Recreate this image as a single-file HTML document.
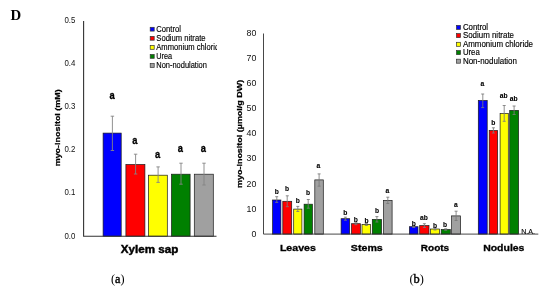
<!DOCTYPE html><html><head><meta charset="utf-8"><title>Figure D</title>
<style>html,body{margin:0;padding:0;background:#fff}body{width:550px;height:293px;overflow:hidden}svg{display:block}.s{font-family:"Liberation Sans",Arial,sans-serif}.r{font-family:"Liberation Serif","DejaVu Serif",serif}.b{font-weight:bold}</style></head><body>
<svg width="550" height="293" viewBox="0 0 550 293">
<rect width="550" height="293" fill="#fff"/>
<text x="10.5" y="20.2" font-size="14.8" class="r b" text-anchor="start" fill="#000" >D</text>
<text x="75.3" y="238.5" font-size="9.0" class="s" text-anchor="end" fill="#111" textLength="10.9" lengthAdjust="spacingAndGlyphs">0.0</text>
<text x="75.3" y="195.4" font-size="9.0" class="s" text-anchor="end" fill="#111" textLength="10.9" lengthAdjust="spacingAndGlyphs">0.1</text>
<text x="75.3" y="152.3" font-size="9.0" class="s" text-anchor="end" fill="#111" textLength="10.9" lengthAdjust="spacingAndGlyphs">0.2</text>
<text x="75.3" y="109.2" font-size="9.0" class="s" text-anchor="end" fill="#111" textLength="10.9" lengthAdjust="spacingAndGlyphs">0.3</text>
<text x="75.3" y="66.1" font-size="9.0" class="s" text-anchor="end" fill="#111" textLength="10.9" lengthAdjust="spacingAndGlyphs">0.4</text>
<text x="75.3" y="23.0" font-size="9.0" class="s" text-anchor="end" fill="#111" textLength="10.9" lengthAdjust="spacingAndGlyphs">0.5</text>
<rect x="103.1" y="133.1" width="18.1" height="103.1" fill="#0000ff" stroke="#1a1a1a" stroke-width="0.7"/>
<rect x="125.9" y="164.5" width="19.0" height="71.7" fill="#ff0000" stroke="#1a1a1a" stroke-width="0.7"/>
<rect x="148.4" y="175.2" width="18.9" height="61.0" fill="#ffff00" stroke="#1a1a1a" stroke-width="0.7"/>
<rect x="171.5" y="174.2" width="18.6" height="62.0" fill="#008000" stroke="#1a1a1a" stroke-width="0.7"/>
<rect x="194.3" y="174.2" width="19.0" height="62.0" fill="#a0a0a0" stroke="#1a1a1a" stroke-width="0.7"/>
<path d="M112.4 116.2V150.5M110.7 116.2H114.1M110.7 150.5H114.1" stroke="#858585" stroke-width="0.9" fill="none"/>
<path d="M135.6 154.2V174.0M133.9 154.2H137.3M133.9 174.0H137.3" stroke="#858585" stroke-width="0.9" fill="none"/>
<path d="M158.1 166.9V182.4M156.4 166.9H159.8M156.4 182.4H159.8" stroke="#858585" stroke-width="0.9" fill="none"/>
<path d="M181.0 163.2V184.2M179.3 163.2H182.7M179.3 184.2H182.7" stroke="#858585" stroke-width="0.9" fill="none"/>
<path d="M204.0 163.2V185.0M202.3 163.2H205.7M202.3 185.0H205.7" stroke="#858585" stroke-width="0.9" fill="none"/>
<path d="M83.6 21V236.2H216.5" stroke="#333" stroke-width="1.1" fill="none"/>
<text x="112.0" y="98.7" font-size="11.0" class="s b" text-anchor="middle" fill="#000" textLength="5.2" lengthAdjust="spacingAndGlyphs" stroke="#000" stroke-width="0.3">a</text>
<text x="134.9" y="144.1" font-size="11.0" class="s b" text-anchor="middle" fill="#000" textLength="5.2" lengthAdjust="spacingAndGlyphs" stroke="#000" stroke-width="0.3">a</text>
<text x="157.6" y="158.3" font-size="11.0" class="s b" text-anchor="middle" fill="#000" textLength="5.2" lengthAdjust="spacingAndGlyphs" stroke="#000" stroke-width="0.3">a</text>
<text x="180.4" y="152.0" font-size="11.0" class="s b" text-anchor="middle" fill="#000" textLength="5.2" lengthAdjust="spacingAndGlyphs" stroke="#000" stroke-width="0.3">a</text>
<text x="203.3" y="152.0" font-size="11.0" class="s b" text-anchor="middle" fill="#000" textLength="5.2" lengthAdjust="spacingAndGlyphs" stroke="#000" stroke-width="0.3">a</text>
<text x="149.6" y="252.7" font-size="10.0" class="s b" text-anchor="middle" fill="#000" textLength="57.5" lengthAdjust="spacingAndGlyphs" stroke="#000" stroke-width="0.4">Xylem sap</text>
<g transform="translate(59.9,127.8) rotate(-90)">
<text x="0.0" y="0.0" font-size="8.0" class="s b" text-anchor="middle" fill="#000" textLength="77" lengthAdjust="spacingAndGlyphs" stroke="#000" stroke-width="0.25">myo-inositol (mM)</text>
</g>
<clipPath id="ca"><rect x="140" y="20" width="76.9" height="55"/></clipPath><g clip-path="url(#ca)">
<rect x="150.2" y="27.3" width="4.0" height="3.8" fill="#0000ff" stroke="#333" stroke-width="0.7"/>
<text x="156.3" y="32.0" font-size="8.3" class="s" text-anchor="start" fill="#000" textLength="24.6" lengthAdjust="spacingAndGlyphs" stroke="#000" stroke-width="0.15">Control</text>
<rect x="150.2" y="36.4" width="4.0" height="3.8" fill="#ff0000" stroke="#333" stroke-width="0.7"/>
<text x="156.3" y="41.1" font-size="8.3" class="s" text-anchor="start" fill="#000" textLength="49.2" lengthAdjust="spacingAndGlyphs" stroke="#000" stroke-width="0.15">Sodium nitrate</text>
<rect x="150.2" y="45.5" width="4.0" height="3.8" fill="#ffff00" stroke="#333" stroke-width="0.7"/>
<text x="156.3" y="50.2" font-size="8.3" class="s" text-anchor="start" fill="#000" textLength="67.1" lengthAdjust="spacingAndGlyphs" stroke="#000" stroke-width="0.15">Ammonium chloride</text>
<rect x="150.2" y="54.5" width="4.0" height="3.8" fill="#008000" stroke="#333" stroke-width="0.7"/>
<text x="156.3" y="59.2" font-size="8.3" class="s" text-anchor="start" fill="#000" textLength="15.8" lengthAdjust="spacingAndGlyphs" stroke="#000" stroke-width="0.15">Urea</text>
<rect x="150.2" y="63.6" width="4.0" height="3.8" fill="#a0a0a0" stroke="#333" stroke-width="0.7"/>
<text x="156.3" y="68.3" font-size="8.3" class="s" text-anchor="start" fill="#000" textLength="50.6" lengthAdjust="spacingAndGlyphs" stroke="#000" stroke-width="0.15">Non-nodulation</text>
</g>
<text x="117.8" y="282.5" font-size="12.0" class="r" text-anchor="middle" fill="#000" textLength="13.6" lengthAdjust="spacingAndGlyphs">(<tspan stroke="#000" stroke-width="0.4">a</tspan>)</text>
<text x="256.3" y="236.6" font-size="9.0" class="s" text-anchor="end" fill="#111" textLength="4.9" lengthAdjust="spacingAndGlyphs">0</text>
<text x="256.3" y="211.5" font-size="9.0" class="s" text-anchor="end" fill="#111" textLength="9.8" lengthAdjust="spacingAndGlyphs">10</text>
<text x="256.3" y="186.5" font-size="9.0" class="s" text-anchor="end" fill="#111" textLength="9.8" lengthAdjust="spacingAndGlyphs">20</text>
<text x="256.3" y="161.4" font-size="9.0" class="s" text-anchor="end" fill="#111" textLength="9.8" lengthAdjust="spacingAndGlyphs">30</text>
<text x="256.3" y="136.4" font-size="9.0" class="s" text-anchor="end" fill="#111" textLength="9.8" lengthAdjust="spacingAndGlyphs">40</text>
<text x="256.3" y="111.3" font-size="9.0" class="s" text-anchor="end" fill="#111" textLength="9.8" lengthAdjust="spacingAndGlyphs">50</text>
<text x="256.3" y="86.2" font-size="9.0" class="s" text-anchor="end" fill="#111" textLength="9.8" lengthAdjust="spacingAndGlyphs">60</text>
<text x="256.3" y="61.2" font-size="9.0" class="s" text-anchor="end" fill="#111" textLength="9.8" lengthAdjust="spacingAndGlyphs">70</text>
<text x="256.3" y="36.1" font-size="9.0" class="s" text-anchor="end" fill="#111" textLength="9.8" lengthAdjust="spacingAndGlyphs">80</text>
<rect x="272.6" y="200.0" width="8.3" height="34.1" fill="#0000ff" stroke="#1a1a1a" stroke-width="0.7"/>
<rect x="282.8" y="201.3" width="8.9" height="32.8" fill="#ff0000" stroke="#1a1a1a" stroke-width="0.7"/>
<rect x="293.7" y="209.1" width="8.2" height="25.0" fill="#ffff00" stroke="#1a1a1a" stroke-width="0.7"/>
<rect x="304.1" y="204.2" width="8.3" height="29.9" fill="#008000" stroke="#1a1a1a" stroke-width="0.7"/>
<rect x="314.8" y="179.9" width="8.5" height="54.2" fill="#a0a0a0" stroke="#1a1a1a" stroke-width="0.7"/>
<rect x="341.1" y="218.7" width="8.6" height="15.4" fill="#0000ff" stroke="#1a1a1a" stroke-width="0.7"/>
<rect x="351.5" y="223.7" width="8.9" height="10.4" fill="#ff0000" stroke="#1a1a1a" stroke-width="0.7"/>
<rect x="362.0" y="224.5" width="8.6" height="9.6" fill="#ffff00" stroke="#1a1a1a" stroke-width="0.7"/>
<rect x="372.3" y="219.4" width="9.2" height="14.7" fill="#008000" stroke="#1a1a1a" stroke-width="0.7"/>
<rect x="383.5" y="200.4" width="8.6" height="33.7" fill="#a0a0a0" stroke="#1a1a1a" stroke-width="0.7"/>
<rect x="409.4" y="226.7" width="8.6" height="7.4" fill="#0000ff" stroke="#1a1a1a" stroke-width="0.7"/>
<rect x="419.7" y="225.6" width="9.3" height="8.5" fill="#ff0000" stroke="#1a1a1a" stroke-width="0.7"/>
<rect x="430.5" y="229.0" width="9.0" height="5.1" fill="#ffff00" stroke="#1a1a1a" stroke-width="0.7"/>
<rect x="441.2" y="229.5" width="9.1" height="4.6" fill="#008000" stroke="#1a1a1a" stroke-width="0.7"/>
<rect x="451.6" y="215.9" width="9.0" height="18.2" fill="#a0a0a0" stroke="#1a1a1a" stroke-width="0.7"/>
<rect x="478.3" y="100.5" width="8.9" height="133.6" fill="#0000ff" stroke="#1a1a1a" stroke-width="0.7"/>
<rect x="489.2" y="130.5" width="8.4" height="103.6" fill="#ff0000" stroke="#1a1a1a" stroke-width="0.7"/>
<rect x="500.1" y="113.6" width="8.2" height="120.5" fill="#ffff00" stroke="#1a1a1a" stroke-width="0.7"/>
<rect x="509.7" y="110.4" width="8.9" height="123.7" fill="#008000" stroke="#1a1a1a" stroke-width="0.7"/>
<path d="M276.8 196.7V202.4M275.2 196.7H278.2M275.2 202.4H278.2" stroke="#7a7a7a" stroke-width="0.85" fill="none"/>
<path d="M287.2 195.8V206.7M285.8 195.8H288.8M285.8 206.7H288.8" stroke="#7a7a7a" stroke-width="0.85" fill="none"/>
<path d="M297.8 206.4V211.5M296.3 206.4H299.3M296.3 211.5H299.3" stroke="#7a7a7a" stroke-width="0.85" fill="none"/>
<path d="M308.2 199.5V208.2M306.8 199.5H309.8M306.8 208.2H309.8" stroke="#7a7a7a" stroke-width="0.85" fill="none"/>
<path d="M319.1 173.9V186.2M317.6 173.9H320.6M317.6 186.2H320.6" stroke="#7a7a7a" stroke-width="0.85" fill="none"/>
<path d="M345.4 217.2V220.2M343.9 217.2H346.9M343.9 220.2H346.9" stroke="#7a7a7a" stroke-width="0.85" fill="none"/>
<path d="M355.9 222.7V224.7M354.4 222.7H357.4M354.4 224.7H357.4" stroke="#7a7a7a" stroke-width="0.85" fill="none"/>
<path d="M366.3 223.5V225.5M364.8 223.5H367.8M364.8 225.5H367.8" stroke="#7a7a7a" stroke-width="0.85" fill="none"/>
<path d="M376.9 216.6V222.0M375.4 216.6H378.4M375.4 222.0H378.4" stroke="#7a7a7a" stroke-width="0.85" fill="none"/>
<path d="M387.8 197.2V203.5M386.3 197.2H389.3M386.3 203.5H389.3" stroke="#7a7a7a" stroke-width="0.85" fill="none"/>
<path d="M413.7 225.9V227.5M412.2 225.9H415.2M412.2 227.5H415.2" stroke="#7a7a7a" stroke-width="0.85" fill="none"/>
<path d="M424.4 223.7V227.5M422.9 223.7H425.9M422.9 227.5H425.9" stroke="#7a7a7a" stroke-width="0.85" fill="none"/>
<path d="M435.0 228.0V230.0M433.5 228.0H436.5M433.5 230.0H436.5" stroke="#7a7a7a" stroke-width="0.85" fill="none"/>
<path d="M445.8 228.8V230.2M444.2 228.8H447.2M444.2 230.2H447.2" stroke="#7a7a7a" stroke-width="0.85" fill="none"/>
<path d="M456.1 211.2V220.5M454.6 211.2H457.6M454.6 220.5H457.6" stroke="#7a7a7a" stroke-width="0.85" fill="none"/>
<path d="M482.8 94.0V107.6M481.2 94.0H484.2M481.2 107.6H484.2" stroke="#7a7a7a" stroke-width="0.85" fill="none"/>
<path d="M493.4 127.8V133.0M491.9 127.8H494.9M491.9 133.0H494.9" stroke="#7a7a7a" stroke-width="0.85" fill="none"/>
<path d="M504.2 105.5V121.3M502.7 105.5H505.7M502.7 121.3H505.7" stroke="#7a7a7a" stroke-width="0.85" fill="none"/>
<path d="M514.1 106.0V114.5M512.6 106.0H515.6M512.6 114.5H515.6" stroke="#7a7a7a" stroke-width="0.85" fill="none"/>
<path d="M263.5 33.5V234.1H538.3" stroke="#333" stroke-width="0.9" fill="none"/>
<text x="276.8" y="194.0" font-size="6.7" class="s b" text-anchor="middle" fill="#000" stroke="#000" stroke-width="0.12">b</text>
<text x="287.1" y="191.1" font-size="6.7" class="s b" text-anchor="middle" fill="#000" stroke="#000" stroke-width="0.12">b</text>
<text x="297.7" y="203.1" font-size="6.7" class="s b" text-anchor="middle" fill="#000" stroke="#000" stroke-width="0.12">b</text>
<text x="308.0" y="195.2" font-size="6.7" class="s b" text-anchor="middle" fill="#000" stroke="#000" stroke-width="0.12">b</text>
<text x="318.3" y="167.6" font-size="6.7" class="s b" text-anchor="middle" fill="#000" stroke="#000" stroke-width="0.12">a</text>
<text x="345.4" y="215.0" font-size="6.7" class="s b" text-anchor="middle" fill="#000" stroke="#000" stroke-width="0.12">b</text>
<text x="355.8" y="221.5" font-size="6.7" class="s b" text-anchor="middle" fill="#000" stroke="#000" stroke-width="0.12">b</text>
<text x="366.5" y="222.6" font-size="6.7" class="s b" text-anchor="middle" fill="#000" stroke="#000" stroke-width="0.12">b</text>
<text x="377.0" y="212.7" font-size="6.7" class="s b" text-anchor="middle" fill="#000" stroke="#000" stroke-width="0.12">b</text>
<text x="387.4" y="193.3" font-size="6.7" class="s b" text-anchor="middle" fill="#000" stroke="#000" stroke-width="0.12">a</text>
<text x="413.9" y="225.8" font-size="6.7" class="s b" text-anchor="middle" fill="#000" stroke="#000" stroke-width="0.12">b</text>
<text x="424.0" y="220.2" font-size="6.7" class="s b" text-anchor="middle" fill="#000" stroke="#000" stroke-width="0.12">ab</text>
<text x="435.0" y="228.0" font-size="6.7" class="s b" text-anchor="middle" fill="#000" stroke="#000" stroke-width="0.12">b</text>
<text x="445.1" y="226.7" font-size="6.7" class="s b" text-anchor="middle" fill="#000" stroke="#000" stroke-width="0.12">b</text>
<text x="455.9" y="206.9" font-size="6.7" class="s b" text-anchor="middle" fill="#000" stroke="#000" stroke-width="0.12">a</text>
<text x="482.4" y="85.8" font-size="6.7" class="s b" text-anchor="middle" fill="#000" stroke="#000" stroke-width="0.12">a</text>
<text x="493.3" y="125.4" font-size="6.7" class="s b" text-anchor="middle" fill="#000" stroke="#000" stroke-width="0.12">b</text>
<text x="503.6" y="97.8" font-size="6.7" class="s b" text-anchor="middle" fill="#000" stroke="#000" stroke-width="0.12">ab</text>
<text x="513.7" y="101.4" font-size="6.7" class="s b" text-anchor="middle" fill="#000" stroke="#000" stroke-width="0.12">ab</text>
<text x="521.2" y="233.7" font-size="7.1" class="s" text-anchor="start" fill="#000" stroke="#000" stroke-width="0.12">N.A.</text>
<text x="297.9" y="251.4" font-size="9.8" class="s b" text-anchor="middle" fill="#000" textLength="36.0" lengthAdjust="spacingAndGlyphs" stroke="#000" stroke-width="0.3">Leaves</text>
<text x="366.8" y="251.4" font-size="9.8" class="s b" text-anchor="middle" fill="#000" textLength="32.0" lengthAdjust="spacingAndGlyphs" stroke="#000" stroke-width="0.3">Stems</text>
<text x="435.0" y="251.4" font-size="9.8" class="s b" text-anchor="middle" fill="#000" textLength="28.4" lengthAdjust="spacingAndGlyphs" stroke="#000" stroke-width="0.3">Roots</text>
<text x="503.8" y="251.4" font-size="9.8" class="s b" text-anchor="middle" fill="#000" textLength="41.3" lengthAdjust="spacingAndGlyphs" stroke="#000" stroke-width="0.3">Nodules</text>
<g transform="translate(241.6,133.9) rotate(-90)">
<text x="0.0" y="0.0" font-size="8.0" class="s b" text-anchor="middle" fill="#000" textLength="108.2" lengthAdjust="spacingAndGlyphs" stroke="#000" stroke-width="0.25">myo-inositol (µmol/g DW)</text>
</g>
<rect x="456.5" y="25.4" width="4.0" height="4.0" fill="#0000ff" stroke="#333" stroke-width="0.7"/>
<text x="462.9" y="30.0" font-size="8.4" class="s" text-anchor="start" fill="#000" textLength="25.2" lengthAdjust="spacingAndGlyphs" stroke="#000" stroke-width="0.15">Control</text>
<rect x="456.5" y="33.6" width="4.0" height="4.0" fill="#ff0000" stroke="#333" stroke-width="0.7"/>
<text x="462.9" y="38.2" font-size="8.4" class="s" text-anchor="start" fill="#000" textLength="51.1" lengthAdjust="spacingAndGlyphs" stroke="#000" stroke-width="0.15">Sodium nitrate</text>
<rect x="456.5" y="42.3" width="4.0" height="4.0" fill="#ffff00" stroke="#333" stroke-width="0.7"/>
<text x="462.9" y="46.9" font-size="8.4" class="s" text-anchor="start" fill="#000" textLength="70.1" lengthAdjust="spacingAndGlyphs" stroke="#000" stroke-width="0.15">Ammonium chloride</text>
<rect x="456.5" y="50.6" width="4.0" height="4.0" fill="#008000" stroke="#333" stroke-width="0.7"/>
<text x="462.9" y="55.2" font-size="8.4" class="s" text-anchor="start" fill="#000" textLength="16.9" lengthAdjust="spacingAndGlyphs" stroke="#000" stroke-width="0.15">Urea</text>
<rect x="456.5" y="59.2" width="4.0" height="4.0" fill="#a0a0a0" stroke="#333" stroke-width="0.7"/>
<text x="462.9" y="63.8" font-size="8.4" class="s" text-anchor="start" fill="#000" textLength="54.1" lengthAdjust="spacingAndGlyphs" stroke="#000" stroke-width="0.15">Non-nodulation</text>
<text x="416.6" y="282.5" font-size="12.0" class="r" text-anchor="middle" fill="#000" textLength="14.4" lengthAdjust="spacingAndGlyphs">(<tspan stroke="#000" stroke-width="0.4">b</tspan>)</text>
</svg></body></html>
